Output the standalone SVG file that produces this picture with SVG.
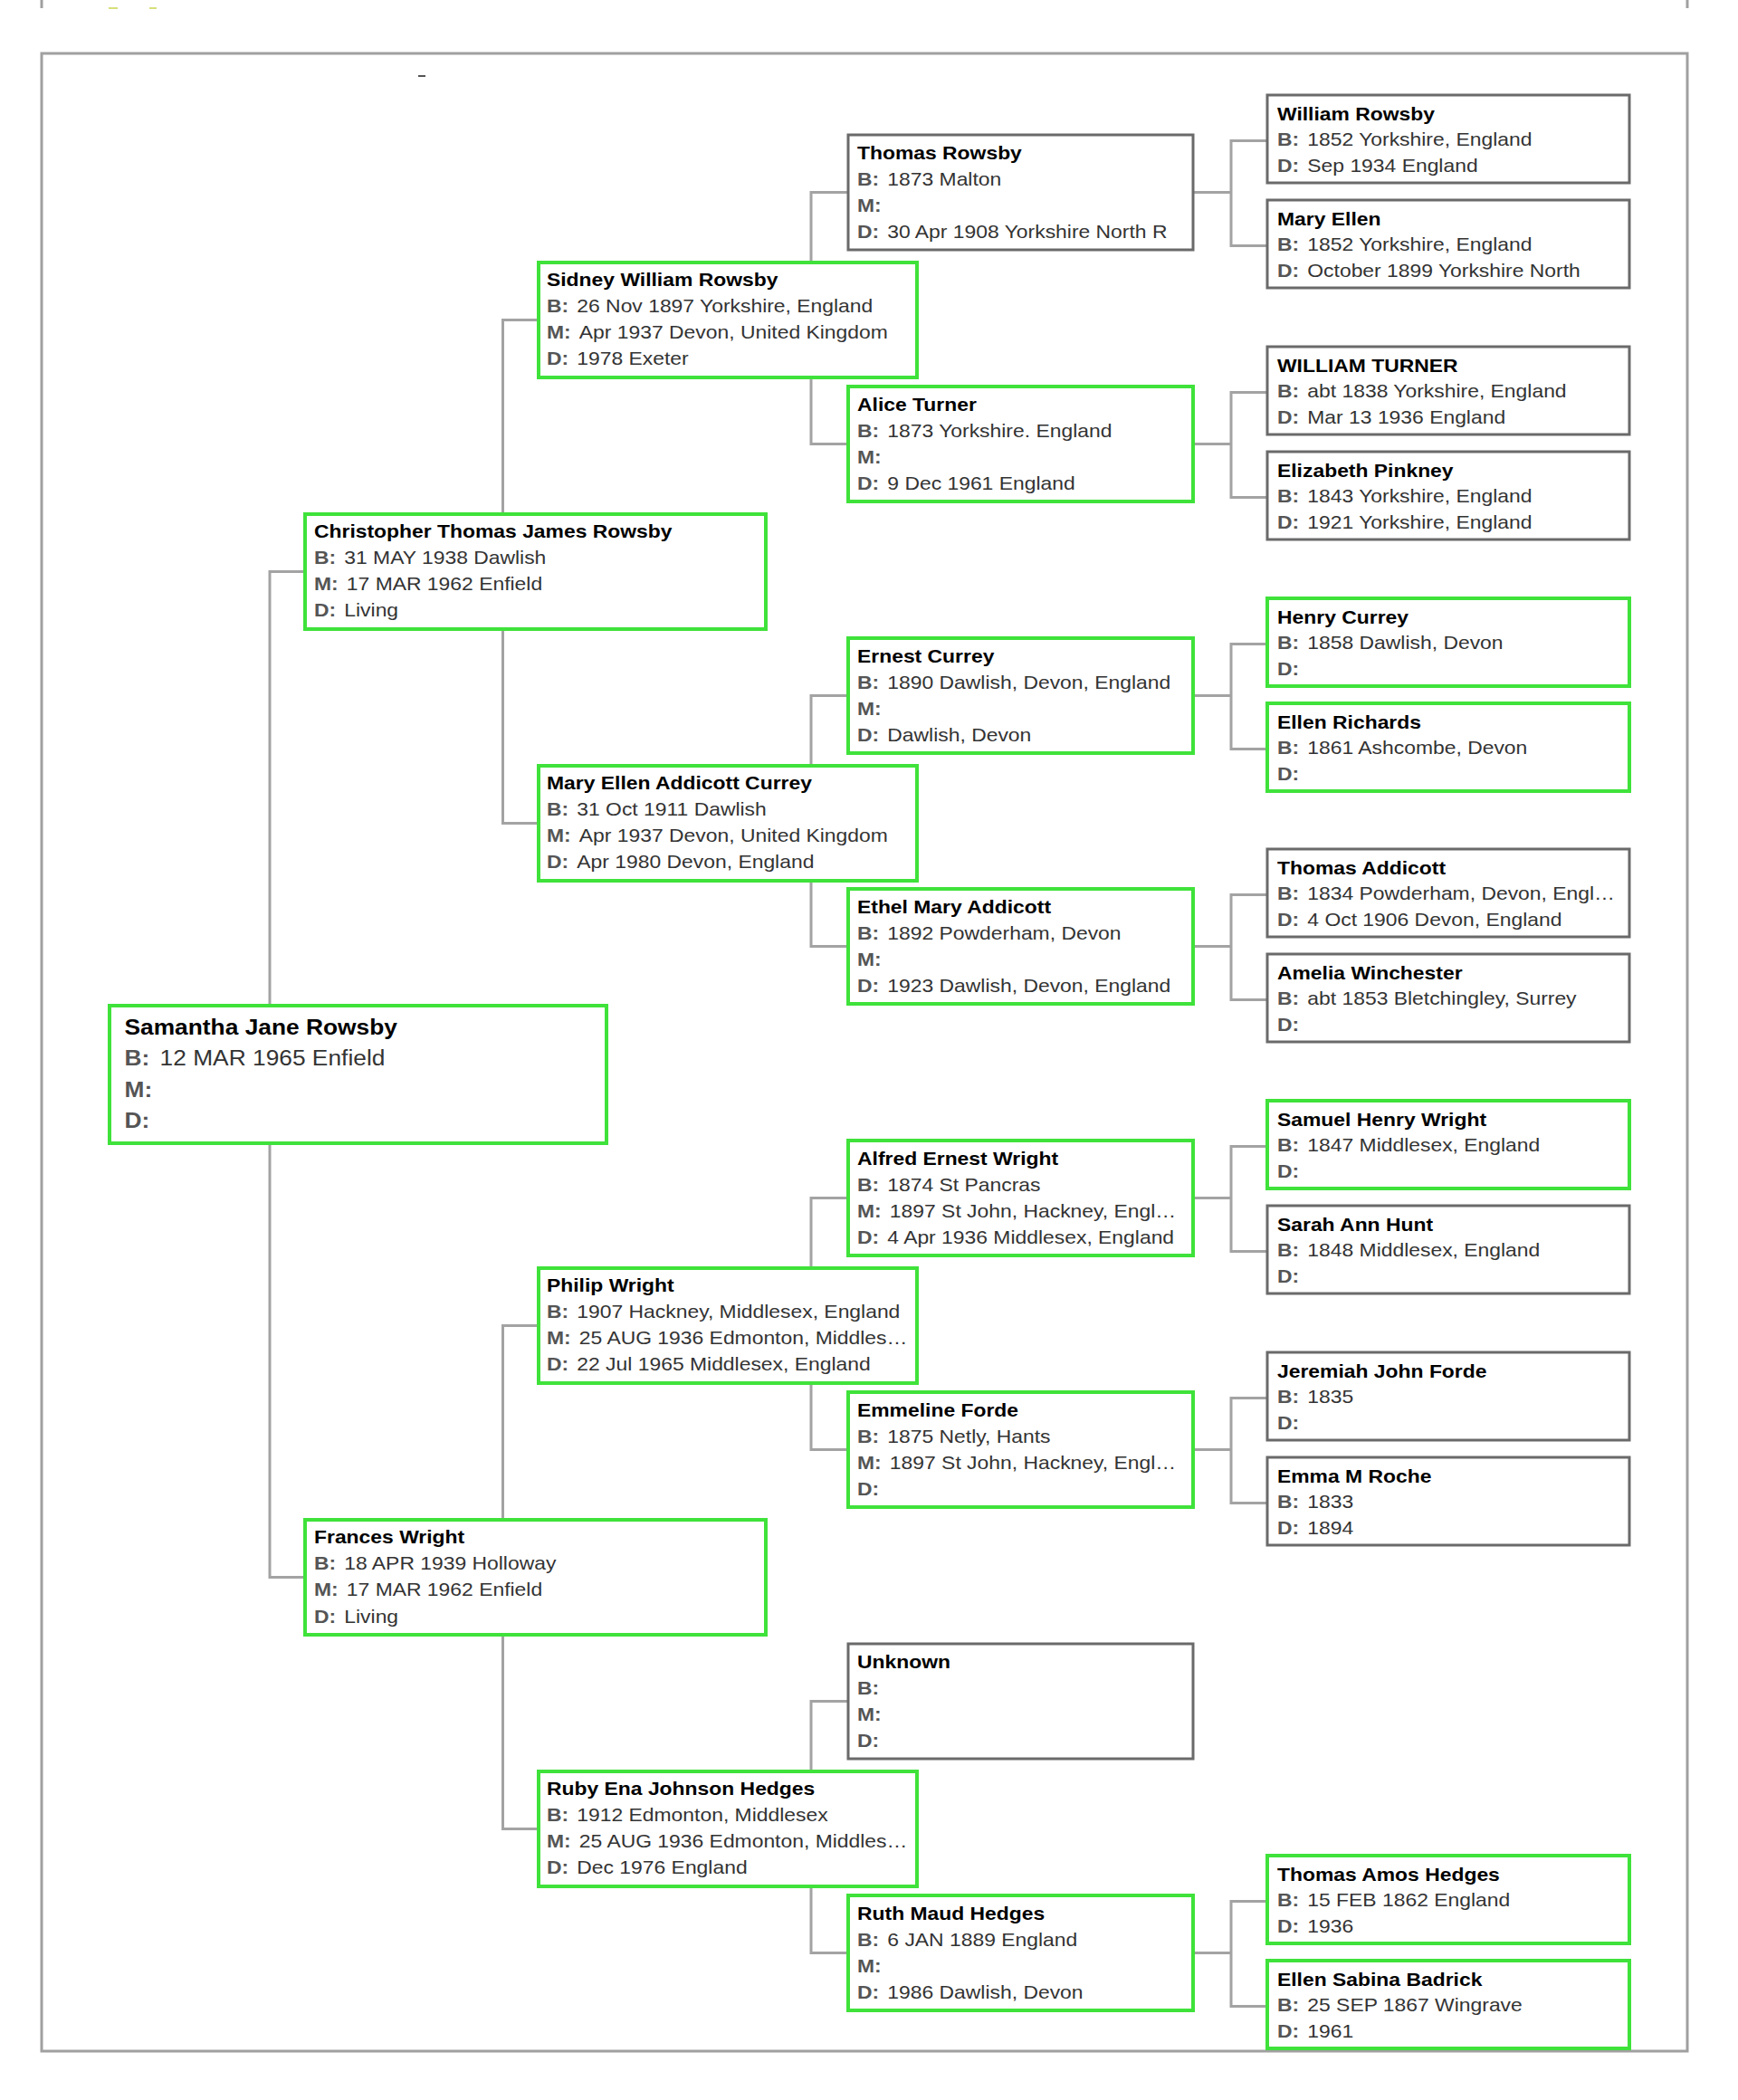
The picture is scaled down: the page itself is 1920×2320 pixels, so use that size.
<svg xmlns="http://www.w3.org/2000/svg" width="1920" height="2320" viewBox="0 0 1920 2320">
<style>
.bg{fill:#fff}
.frame{fill:none;stroke:#a0a0a0;stroke-width:3}
.g{fill:#fff;stroke:#3fe23a;stroke-width:4}
.k{fill:#fff;stroke:#6a6a6a;stroke-width:3}
.c{fill:none;stroke:#a3a3a3;stroke-width:3}
text{font-family:"Liberation Sans",Arial,sans-serif;font-size:20px;fill:#333}
.n{font-weight:bold;fill:#000}
.l{font-weight:bold;fill:#555}
.r text{font-size:23.3px}
</style>
<rect class="bg" x="0" y="0" width="1920" height="2320"/>
<g id="artifacts">
<line x1="46" y1="0" x2="46" y2="9" class="frame"/>
<line x1="1864" y1="0" x2="1864" y2="9" class="frame"/>
<line x1="120" y1="9" x2="130" y2="9" stroke="#d6e07a" stroke-width="2"/>
<line x1="165" y1="9" x2="173" y2="9" stroke="#d6e07a" stroke-width="2"/>
<line x1="462" y1="84" x2="470" y2="84" stroke="#555" stroke-width="2"/>
</g>
<rect id="frame" class="frame" x="46" y="59" width="1818" height="2207"/>
<g id="connectors">
<path class="c" d="M337 631.5H298V1742.5H337"/>
<path class="c" d="M595 353.5H555.5V909.5H595M595 1464.5H555.5V2020.5H595"/>
<path class="c" d="M937 212.5H896V490.5H937M937 768.5H896V1045.5H937M937 1323.5H896V1601.5H937M937 1879.5H896V2157.5H937"/>
<path class="c" d="M1318 212.5H1360M1400 155.5H1360V271.5H1400"/>
<path class="c" d="M1318 490.5H1360M1400 433.5H1360V549.5H1400"/>
<path class="c" d="M1318 768.5H1360M1400 711.5H1360V827.5H1400"/>
<path class="c" d="M1318 1045.5H1360M1400 988.5H1360V1104.5H1400"/>
<path class="c" d="M1318 1323.5H1360M1400 1266.5H1360V1382.5H1400"/>
<path class="c" d="M1318 1601.5H1360M1400 1544.5H1360V1660.5H1400"/>
<path class="c" d="M1318 2157.5H1360M1400 2100.5H1360V2216.5H1400"/>
</g>

<g id="samantha" class="r">
<rect class="g" x="121" y="1111" width="549" height="152"/>
<g transform="translate(137.5 0) scale(1.13 1)">
<text class="n" y="1143">Samantha Jane Rowsby</text>
<text y="1177"><tspan class="l">B:</tspan><tspan dx="10">12 MAR 1965 Enfield</tspan></text>
<text y="1212"><tspan class="l">M:</tspan></text>
<text y="1246"><tspan class="l">D:</tspan></text>
</g>
</g>

<g id="christopher">
<rect class="g" x="337" y="568" width="509" height="127"/>
<g transform="translate(347 0) scale(1.145 1)">
<text class="n" y="594.5">Christopher Thomas James Rowsby</text>
<text y="623.5"><tspan class="l">B:</tspan><tspan dx="8">31 MAY 1938 Dawlish</tspan></text>
<text y="652.5"><tspan class="l">M:</tspan><tspan dx="8">17 MAR 1962 Enfield</tspan></text>
<text y="681.5"><tspan class="l">D:</tspan><tspan dx="8">Living</tspan></text>
</g>
</g>

<g id="frances">
<rect class="g" x="337" y="1679" width="509" height="127"/>
<g transform="translate(347 0) scale(1.145 1)">
<text class="n" y="1705.5">Frances Wright</text>
<text y="1734.5"><tspan class="l">B:</tspan><tspan dx="8">18 APR 1939 Holloway</tspan></text>
<text y="1763.5"><tspan class="l">M:</tspan><tspan dx="8">17 MAR 1962 Enfield</tspan></text>
<text y="1792.5"><tspan class="l">D:</tspan><tspan dx="8">Living</tspan></text>
</g>
</g>

<g id="sidney">
<rect class="g" x="595" y="290" width="418" height="127"/>
<g transform="translate(604 0) scale(1.145 1)">
<text class="n" y="316.5">Sidney William Rowsby</text>
<text y="345.5"><tspan class="l">B:</tspan><tspan dx="8">26 Nov 1897 Yorkshire, England</tspan></text>
<text y="374.5"><tspan class="l">M:</tspan><tspan dx="8">Apr 1937 Devon, United Kingdom</tspan></text>
<text y="403.5"><tspan class="l">D:</tspan><tspan dx="8">1978 Exeter</tspan></text>
</g>
</g>

<g id="maryellen-currey">
<rect class="g" x="595" y="846" width="418" height="127"/>
<g transform="translate(604 0) scale(1.145 1)">
<text class="n" y="872.5">Mary Ellen Addicott Currey</text>
<text y="901.5"><tspan class="l">B:</tspan><tspan dx="8">31 Oct 1911 Dawlish</tspan></text>
<text y="930.5"><tspan class="l">M:</tspan><tspan dx="8">Apr 1937 Devon, United Kingdom</tspan></text>
<text y="959.5"><tspan class="l">D:</tspan><tspan dx="8">Apr 1980 Devon, England</tspan></text>
</g>
</g>

<g id="philip">
<rect class="g" x="595" y="1401" width="418" height="127"/>
<g transform="translate(604 0) scale(1.145 1)">
<text class="n" y="1427.5">Philip Wright</text>
<text y="1456.5"><tspan class="l">B:</tspan><tspan dx="8">1907 Hackney, Middlesex, England</tspan></text>
<text y="1485.5"><tspan class="l">M:</tspan><tspan dx="8">25 AUG 1936 Edmonton, Middles…</tspan></text>
<text y="1514.5"><tspan class="l">D:</tspan><tspan dx="8">22 Jul 1965 Middlesex, England</tspan></text>
</g>
</g>

<g id="ruby">
<rect class="g" x="595" y="1957" width="418" height="127"/>
<g transform="translate(604 0) scale(1.145 1)">
<text class="n" y="1983.5">Ruby Ena Johnson Hedges</text>
<text y="2012.5"><tspan class="l">B:</tspan><tspan dx="8">1912 Edmonton, Middlesex</tspan></text>
<text y="2041.5"><tspan class="l">M:</tspan><tspan dx="8">25 AUG 1936 Edmonton, Middles…</tspan></text>
<text y="2070.5"><tspan class="l">D:</tspan><tspan dx="8">Dec 1976 England</tspan></text>
</g>
</g>

<g id="thomas-rowsby">
<rect class="k" x="937" y="149" width="381" height="127"/>
<g transform="translate(947 0) scale(1.145 1)">
<text class="n" y="176">Thomas Rowsby</text>
<text y="205"><tspan class="l">B:</tspan><tspan dx="8">1873 Malton</tspan></text>
<text y="234"><tspan class="l">M:</tspan></text>
<text y="263"><tspan class="l">D:</tspan><tspan dx="8">30 Apr 1908 Yorkshire North R</tspan></text>
</g>
</g>

<g id="alice-turner">
<rect class="g" x="937" y="427" width="381" height="127"/>
<g transform="translate(947 0) scale(1.145 1)">
<text class="n" y="454">Alice Turner</text>
<text y="483"><tspan class="l">B:</tspan><tspan dx="8">1873 Yorkshire. England</tspan></text>
<text y="512"><tspan class="l">M:</tspan></text>
<text y="541"><tspan class="l">D:</tspan><tspan dx="8">9 Dec 1961 England</tspan></text>
</g>
</g>

<g id="ernest-currey">
<rect class="g" x="937" y="705" width="381" height="127"/>
<g transform="translate(947 0) scale(1.145 1)">
<text class="n" y="732">Ernest Currey</text>
<text y="761"><tspan class="l">B:</tspan><tspan dx="8">1890 Dawlish, Devon, England</tspan></text>
<text y="790"><tspan class="l">M:</tspan></text>
<text y="819"><tspan class="l">D:</tspan><tspan dx="8">Dawlish, Devon</tspan></text>
</g>
</g>

<g id="ethel-addicott">
<rect class="g" x="937" y="982" width="381" height="127"/>
<g transform="translate(947 0) scale(1.145 1)">
<text class="n" y="1009">Ethel Mary Addicott</text>
<text y="1038"><tspan class="l">B:</tspan><tspan dx="8">1892 Powderham, Devon</tspan></text>
<text y="1067"><tspan class="l">M:</tspan></text>
<text y="1096"><tspan class="l">D:</tspan><tspan dx="8">1923 Dawlish, Devon, England</tspan></text>
</g>
</g>

<g id="alfred-wright">
<rect class="g" x="937" y="1260" width="381" height="127"/>
<g transform="translate(947 0) scale(1.145 1)">
<text class="n" y="1287">Alfred Ernest Wright</text>
<text y="1316"><tspan class="l">B:</tspan><tspan dx="8">1874 St Pancras</tspan></text>
<text y="1345"><tspan class="l">M:</tspan><tspan dx="8">1897 St John, Hackney, Engl…</tspan></text>
<text y="1374"><tspan class="l">D:</tspan><tspan dx="8">4 Apr 1936 Middlesex, England</tspan></text>
</g>
</g>

<g id="emmeline-forde">
<rect class="g" x="937" y="1538" width="381" height="127"/>
<g transform="translate(947 0) scale(1.145 1)">
<text class="n" y="1565">Emmeline Forde</text>
<text y="1594"><tspan class="l">B:</tspan><tspan dx="8">1875 Netly, Hants</tspan></text>
<text y="1623"><tspan class="l">M:</tspan><tspan dx="8">1897 St John, Hackney, Engl…</tspan></text>
<text y="1652"><tspan class="l">D:</tspan></text>
</g>
</g>

<g id="unknown">
<rect class="k" x="937" y="1816" width="381" height="127"/>
<g transform="translate(947 0) scale(1.145 1)">
<text class="n" y="1843">Unknown</text>
<text y="1872"><tspan class="l">B:</tspan></text>
<text y="1901"><tspan class="l">M:</tspan></text>
<text y="1930"><tspan class="l">D:</tspan></text>
</g>
</g>

<g id="ruth-hedges">
<rect class="g" x="937" y="2094" width="381" height="127"/>
<g transform="translate(947 0) scale(1.145 1)">
<text class="n" y="2121">Ruth Maud Hedges</text>
<text y="2150"><tspan class="l">B:</tspan><tspan dx="8">6 JAN 1889 England</tspan></text>
<text y="2179"><tspan class="l">M:</tspan></text>
<text y="2208"><tspan class="l">D:</tspan><tspan dx="8">1986 Dawlish, Devon</tspan></text>
</g>
</g>

<g id="william-rowsby">
<rect class="k" x="1400" y="105" width="400" height="97"/>
<g transform="translate(1411 0) scale(1.145 1)">
<text class="n" y="133">William Rowsby</text>
<text y="161.5"><tspan class="l">B:</tspan><tspan dx="8">1852 Yorkshire, England</tspan></text>
<text y="190"><tspan class="l">D:</tspan><tspan dx="8">Sep 1934 England</tspan></text>
</g>
</g>

<g id="mary-ellen">
<rect class="k" x="1400" y="221" width="400" height="97"/>
<g transform="translate(1411 0) scale(1.145 1)">
<text class="n" y="249">Mary Ellen</text>
<text y="277.5"><tspan class="l">B:</tspan><tspan dx="8">1852 Yorkshire, England</tspan></text>
<text y="306"><tspan class="l">D:</tspan><tspan dx="8">October 1899 Yorkshire North</tspan></text>
</g>
</g>

<g id="william-turner">
<rect class="k" x="1400" y="383" width="400" height="97"/>
<g transform="translate(1411 0) scale(1.145 1)">
<text class="n" y="411">WILLIAM TURNER</text>
<text y="439.5"><tspan class="l">B:</tspan><tspan dx="8">abt 1838 Yorkshire, England</tspan></text>
<text y="468"><tspan class="l">D:</tspan><tspan dx="8">Mar 13 1936 England</tspan></text>
</g>
</g>

<g id="elizabeth-pinkney">
<rect class="k" x="1400" y="499" width="400" height="97"/>
<g transform="translate(1411 0) scale(1.145 1)">
<text class="n" y="527">Elizabeth Pinkney</text>
<text y="555.5"><tspan class="l">B:</tspan><tspan dx="8">1843 Yorkshire, England</tspan></text>
<text y="584"><tspan class="l">D:</tspan><tspan dx="8">1921 Yorkshire, England</tspan></text>
</g>
</g>

<g id="henry-currey">
<rect class="g" x="1400" y="661" width="400" height="97"/>
<g transform="translate(1411 0) scale(1.145 1)">
<text class="n" y="689">Henry Currey</text>
<text y="717.5"><tspan class="l">B:</tspan><tspan dx="8">1858 Dawlish, Devon</tspan></text>
<text y="746"><tspan class="l">D:</tspan></text>
</g>
</g>

<g id="ellen-richards">
<rect class="g" x="1400" y="777" width="400" height="97"/>
<g transform="translate(1411 0) scale(1.145 1)">
<text class="n" y="805">Ellen Richards</text>
<text y="833.5"><tspan class="l">B:</tspan><tspan dx="8">1861 Ashcombe, Devon</tspan></text>
<text y="862"><tspan class="l">D:</tspan></text>
</g>
</g>

<g id="thomas-addicott">
<rect class="k" x="1400" y="938" width="400" height="97"/>
<g transform="translate(1411 0) scale(1.145 1)">
<text class="n" y="966">Thomas Addicott</text>
<text y="994.5"><tspan class="l">B:</tspan><tspan dx="8">1834 Powderham, Devon, Engl…</tspan></text>
<text y="1023"><tspan class="l">D:</tspan><tspan dx="8">4 Oct 1906 Devon, England</tspan></text>
</g>
</g>

<g id="amelia-winchester">
<rect class="k" x="1400" y="1054" width="400" height="97"/>
<g transform="translate(1411 0) scale(1.145 1)">
<text class="n" y="1082">Amelia Winchester</text>
<text y="1110.5"><tspan class="l">B:</tspan><tspan dx="8">abt 1853 Bletchingley, Surrey</tspan></text>
<text y="1139"><tspan class="l">D:</tspan></text>
</g>
</g>

<g id="samuel-wright">
<rect class="g" x="1400" y="1216" width="400" height="97"/>
<g transform="translate(1411 0) scale(1.145 1)">
<text class="n" y="1244">Samuel Henry Wright</text>
<text y="1272.5"><tspan class="l">B:</tspan><tspan dx="8">1847 Middlesex, England</tspan></text>
<text y="1301"><tspan class="l">D:</tspan></text>
</g>
</g>

<g id="sarah-hunt">
<rect class="k" x="1400" y="1332" width="400" height="97"/>
<g transform="translate(1411 0) scale(1.145 1)">
<text class="n" y="1360">Sarah Ann Hunt</text>
<text y="1388.5"><tspan class="l">B:</tspan><tspan dx="8">1848 Middlesex, England</tspan></text>
<text y="1417"><tspan class="l">D:</tspan></text>
</g>
</g>

<g id="jeremiah-forde">
<rect class="k" x="1400" y="1494" width="400" height="97"/>
<g transform="translate(1411 0) scale(1.145 1)">
<text class="n" y="1522">Jeremiah John Forde</text>
<text y="1550.5"><tspan class="l">B:</tspan><tspan dx="8">1835</tspan></text>
<text y="1579"><tspan class="l">D:</tspan></text>
</g>
</g>

<g id="emma-roche">
<rect class="k" x="1400" y="1610" width="400" height="97"/>
<g transform="translate(1411 0) scale(1.145 1)">
<text class="n" y="1638">Emma M Roche</text>
<text y="1666.5"><tspan class="l">B:</tspan><tspan dx="8">1833</tspan></text>
<text y="1695"><tspan class="l">D:</tspan><tspan dx="8">1894</tspan></text>
</g>
</g>

<g id="thomas-hedges">
<rect class="g" x="1400" y="2050" width="400" height="97"/>
<g transform="translate(1411 0) scale(1.145 1)">
<text class="n" y="2078">Thomas Amos Hedges</text>
<text y="2106.5"><tspan class="l">B:</tspan><tspan dx="8">15 FEB 1862 England</tspan></text>
<text y="2135"><tspan class="l">D:</tspan><tspan dx="8">1936</tspan></text>
</g>
</g>

<g id="ellen-badrick">
<rect class="g" x="1400" y="2166" width="400" height="97"/>
<g transform="translate(1411 0) scale(1.145 1)">
<text class="n" y="2194">Ellen Sabina Badrick</text>
<text y="2222.5"><tspan class="l">B:</tspan><tspan dx="8">25 SEP 1867 Wingrave</tspan></text>
<text y="2251"><tspan class="l">D:</tspan><tspan dx="8">1961</tspan></text>
</g>
</g>
</svg>
